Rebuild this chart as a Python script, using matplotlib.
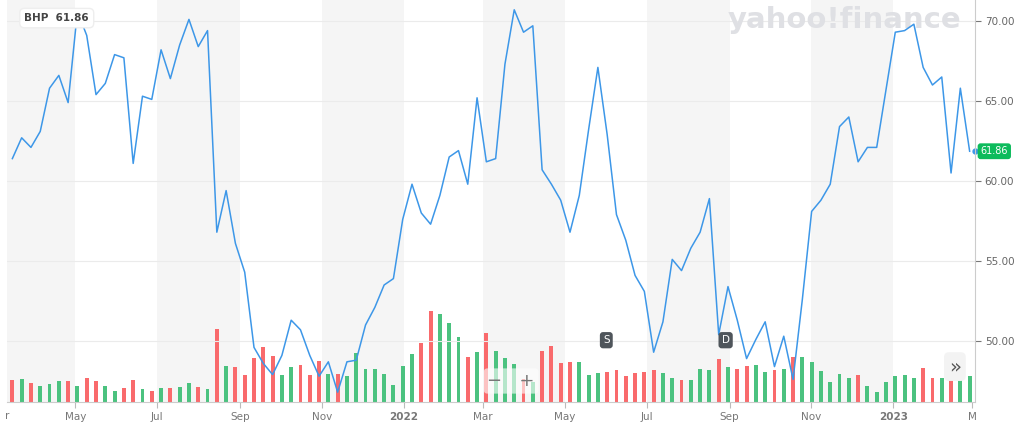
import matplotlib
matplotlib.use("Agg")
import matplotlib.pyplot as plt
import pandas as pd
import numpy as np

prices = [61.4, 62.7, 62.1, 63.1, 65.8, 66.6, 64.9, 70.6, 69.1, 65.4, 66.1, 67.9, 67.7, 61.1,
          65.3, 65.1, 68.2, 66.4, 68.5, 70.1, 68.4, 69.4, 56.8, 59.4, 56.1, 54.3, 49.6, 48.6,
          47.9, 49.1, 51.3, 50.7, 49.1, 47.8, 48.7, 46.8,
          48.7, 48.8, 51.0, 52.1, 53.5, 53.9, 57.6, 59.8, 58.0, 57.3,
          59.1, 61.5, 61.9, 59.8, 65.2, 61.2, 61.4, 67.3, 70.7, 69.3,
          69.7, 60.7, 59.8, 58.8, 56.8, 59.1, 63.2, 67.1, 62.9, 57.9,
          56.3, 54.1, 53.1, 49.3, 51.2, 55.1, 54.4, 55.8, 56.8, 58.9,
          50.4, 53.4, 51.3, 48.9, 50.1, 51.2, 48.4, 50.3, 47.6, 52.6,
          58.1, 58.8, 59.8, 63.4, 64.0, 61.2, 62.1, 62.1, 65.7, 69.3,
          69.4, 69.8, 67.1, 66.0, 66.5, 60.5, 65.8, 61.86]

volumes = [22, 23, 19, 16, 18, 21, 21, 16, 24, 21, 16, 11, 14, 22, 13, 11, 14, 14, 15, 19,
           15, 13, 73, 36, 35, 27, 44, 55, 46, 27, 35, 37, 27, 41, 28, 28,
           26, 49, 33, 33, 28, 17, 36, 48, 59, 91, 88, 79, 65, 45, 50, 69, 51, 44, 38, 23,
           20, 51, 56, 39, 40, 40, 27, 29, 30, 32, 26, 29, 30, 32, 29, 24,
           22, 22, 33, 32, 43, 35, 33, 36, 37, 30, 32, 33, 45, 45, 40, 31, 20, 28, 24, 27,
           16, 10, 20, 26, 27, 24, 34, 24, 24, 24, 26, 26]
vol_up = [0, 1, 0, 1, 1, 1, 0, 1, 0, 0, 1, 1, 0, 0, 1, 0, 1, 0, 1, 1,
          0, 1, 0, 1, 0, 0, 0, 0, 0, 1, 1, 0, 0, 0, 1, 0,
          1, 1, 1, 1, 1, 1, 1, 1, 0, 0, 1, 1, 1, 0, 1, 0, 1, 1, 1, 0,
          1, 0, 0, 0, 0, 1, 1, 1, 0, 0, 0, 0, 0, 0, 1, 1,
          0, 1, 1, 1, 0, 1, 0, 0, 1, 1, 0, 1, 0, 1, 1, 1, 1, 1, 1, 0,
          1, 1, 1, 1, 1, 1, 0, 0, 1, 0, 1, 1]

dates = pd.date_range("2021-03-15", "2023-02-27", periods=len(prices))
n = min(len(prices), len(volumes), len(vol_up))

fig = plt.figure(figsize=(10.24, 4.3), dpi=100)
ax = fig.add_axes([7/1024, 28/430, 968/1024, 402/430])
ax2 = ax.twinx()
ax.set_zorder(2); ax2.set_zorder(1); ax.patch.set_visible(False)

x0, x1 = pd.Timestamp("2021-03-11"), pd.Timestamp("2023-03-03")
ax.set_xlim(x0, x1)
grey_starts = ["2021-03-01", "2021-07-01", "2021-11-01", "2022-03-01", "2022-07-01", "2022-11-01"]
for g in grey_starts:
    s = pd.Timestamp(g)
    ax2.axvspan(max(s, x0), s + pd.DateOffset(months=2), color="#f5f5f5", lw=0, zorder=0)

cols = ["#4bc27f" if vol_up[i] else "#f96a6c" for i in range(n)]
ax2.bar(dates[:n], volumes[:n], width=2.9, color=cols, zorder=2)
ax2.set_ylim(0, 402)
ax2.set_yticks([])
ax2.set_xlim(x0, x1)

ax.set_ylim(70 - (402 - 21) / 16, 70 + 21 / 16)
ax.set_yticks([50, 55, 60, 65, 70])
ax.yaxis.grid(True, color="#ebebeb", lw=0.8)
ax.set_axisbelow(True)
ax.plot(dates[:n], prices[:n], color="#3d97e8", lw=1.1, zorder=3)

ax.yaxis.tick_right()
ax.yaxis.set_major_formatter(matplotlib.ticker.FormatStrFormatter("%.2f"))
ax.tick_params(axis="y", labelsize=7.5, colors="#777777", length=4, pad=3, labelcolor="#666666")
ticks = pd.to_datetime(["2021-05-01", "2021-07-01", "2021-09-01", "2021-11-01", "2022-01-01",
                        "2022-03-01", "2022-05-01", "2022-07-01", "2022-09-01", "2022-11-01", "2023-01-01", "2023-03-01"])
labels = ["May", "Jul", "Sep", "Nov", "2022", "Mar", "May", "Jul", "Sep", "Nov", "2023", "M"]
ax.set_xticks(ticks)
ax.set_xticklabels(labels)
ax.tick_params(axis="x", labelsize=7.5, colors="#bbbbbb", labelcolor="#777777", length=4, pad=3)
for lab in ax.get_xticklabels():
    if lab.get_text() in ("2022", "2023"):
        lab.set_fontweight("bold")
ax.text(x0, -0.035, "r", transform=ax.get_xaxis_transform(), fontsize=7.5, color="#777777", ha="center", va="center")
for sp in ["top", "left"]:
    ax.spines[sp].set_visible(False)
    ax2.spines[sp].set_visible(False)
ax.spines["right"].set_color("#cccccc"); ax.spines["bottom"].set_color("#cccccc")
ax2.spines["right"].set_visible(False); ax2.spines["bottom"].set_visible(False)

ax.text(0.865, 0.95, "yahoo!finance", transform=ax.transAxes, fontsize=21, fontweight="heavy",
        color="#dfe0e4", ha="center", va="center", zorder=1)
ax.text(0.018, 0.955, "BHP  61.86", transform=ax.transAxes, fontsize=7.5, fontweight="bold", color="#444444",
        va="center", bbox=dict(boxstyle="round,pad=0.45", fc="white", ec="#eeeeee"))
ax.annotate("61.86", xy=(1.0, 61.86), xycoords=("axes fraction", "data"), xytext=(4, 0),
            textcoords="offset points", fontsize=7, color="white", va="center", ha="left", annotation_clip=False,
            bbox=dict(boxstyle="round,pad=0.3", fc="#0dbb5c", ec="none"))
ax.plot([1.0], [61.86], marker="o", ms=3.5, color="#3d97e8", transform=ax.get_yaxis_transform(), clip_on=False)
for d, s in [("2022-06-01", "S"), ("2022-08-29", "D")]:
    ax.text(pd.Timestamp(d), 50.05, s, fontsize=7.5, color="white", ha="center", va="center",
            bbox=dict(boxstyle="round,pad=0.3", fc="#4f555b", ec="none"), zorder=5)
ax.text(pd.Timestamp("2022-03-22"), 47.5, "−   +", fontsize=13, color="#777777", ha="center", va="center",
        bbox=dict(boxstyle="round,pad=0.2", fc="white", ec="none", alpha=0.6), zorder=6)
ax.text(pd.Timestamp("2023-02-16"), 48.4, "»", fontsize=14, color="#555555", ha="center", va="center",
        bbox=dict(boxstyle="round,pad=0.25", fc="#f3f3f3", ec="none"), zorder=6)

fig.savefig("out.png", dpi=100)
